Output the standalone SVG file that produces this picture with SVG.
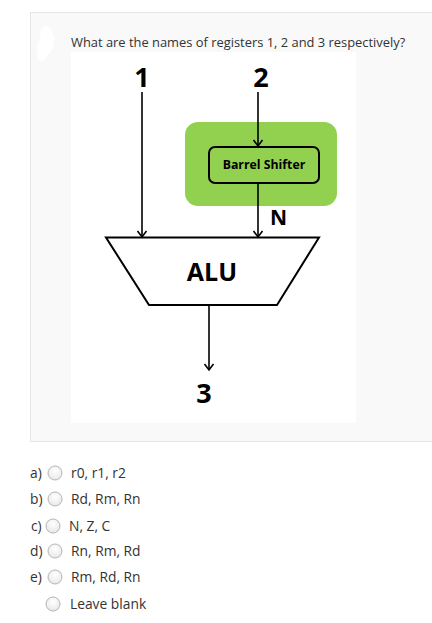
<svg xmlns="http://www.w3.org/2000/svg" width="432" height="623" viewBox="0 0 432 623">
<defs>
<marker id="arr" markerWidth="12" markerHeight="12" refX="9" refY="6" orient="auto" markerUnits="userSpaceOnUse" viewBox="0 0 12 12">
<path d="M3,1.5 L9,6 L3,10.5" fill="none" stroke="#000" stroke-width="1.6"/>
</marker>
<radialGradient id="rg" cx="0.5" cy="0.35" r="0.7">
<stop offset="0" stop-color="#ffffff"/>
<stop offset="1" stop-color="#e6e6e6"/>
</radialGradient>
</defs>
<style>
.q{font-family:"Open Sans","Liberation Sans",sans-serif;font-size:12.9px;fill:#333}
.opt{font-family:"Open Sans","Liberation Sans",sans-serif;font-size:13.8px;fill:#333}
.big{font-family:"Open Sans","Liberation Sans",sans-serif;font-weight:bold;fill:#000;text-anchor:middle}
.wire{stroke:#000;stroke-width:1.6;fill:none}
.radio{fill:url(#rg);stroke:#b5b5b5;stroke-width:1}
</style>
<rect width="432" height="623" fill="#fff"/>
<rect x="30.5" y="12.5" width="410" height="429" fill="#f9f9f9" stroke="#e6e6e6" stroke-width="1"/>
<g fill="#fff">
<ellipse cx="46" cy="34" rx="6" ry="8"/>
<ellipse cx="45" cy="46" rx="8" ry="9"/>
<ellipse cx="50" cy="38" rx="5" ry="5"/>
<ellipse cx="42" cy="55" rx="5" ry="6"/>
</g>
<text class="q" x="71" y="47">What are the names of registers 1, 2 and 3 respectively?</text>
<rect x="71" y="52" width="285" height="371" fill="#fff"/>
<g id="label1"><text class="big" x="142" y="87" font-size="27">1</text></g>
<g id="label2"><text class="big" x="261" y="87" font-size="27">2</text></g>
<g id="shifterArea">
<rect x="185" y="122" width="152" height="84" rx="13" fill="#92d050"/>
</g>
<g id="barrelShifter">
<rect x="209" y="147" width="110" height="36" rx="6" fill="#92d050" stroke="#000" stroke-width="2"/>
<text class="big" x="264" y="169" font-size="12.3">Barrel Shifter</text>
</g>
<g id="labelN"><text class="big" x="278.5" y="225" font-size="21">N</text></g>
<g id="alu">
<polygon points="106,237.5 319,237.5 277,305 149,305" fill="#fff" stroke="#000" stroke-width="2"/>
<text class="big" x="212" y="281" font-size="25">ALU</text>
</g>
<g id="label3"><text class="big" x="204" y="403" font-size="27">3</text></g>
<g id="connectors">
<line class="wire" x1="142" y1="92" x2="142" y2="237" marker-end="url(#arr)"/>
<line class="wire" x1="258" y1="92" x2="258" y2="146" marker-end="url(#arr)"/>
<line class="wire" x1="258" y1="184" x2="258" y2="237" marker-end="url(#arr)"/>
<line class="wire" x1="209" y1="306" x2="209" y2="370" marker-end="url(#arr)"/>
</g>
<g id="options">
<text class="opt" x="30" y="478">a)</text>
<circle class="radio" cx="55" cy="473" r="7"/>
<text class="opt" x="71" y="478">r0, r1, r2</text>
<text class="opt" x="30" y="504">b)</text>
<circle class="radio" cx="55" cy="499" r="7"/>
<text class="opt" x="71" y="504">Rd, Rm, Rn</text>
<text class="opt" x="31" y="531">c)</text>
<circle class="radio" cx="53" cy="526" r="7"/>
<text class="opt" x="69" y="531">N, Z, C</text>
<text class="opt" x="30" y="556">d)</text>
<circle class="radio" cx="55" cy="551" r="7"/>
<text class="opt" x="71" y="556">Rn, Rm, Rd</text>
<text class="opt" x="30" y="582">e)</text>
<circle class="radio" cx="55" cy="577" r="7"/>
<text class="opt" x="71" y="582">Rm, Rd, Rn</text>
<circle class="radio" cx="53" cy="604" r="7"/>
<text class="opt" x="70" y="609">Leave blank</text>
</g>
</svg>
